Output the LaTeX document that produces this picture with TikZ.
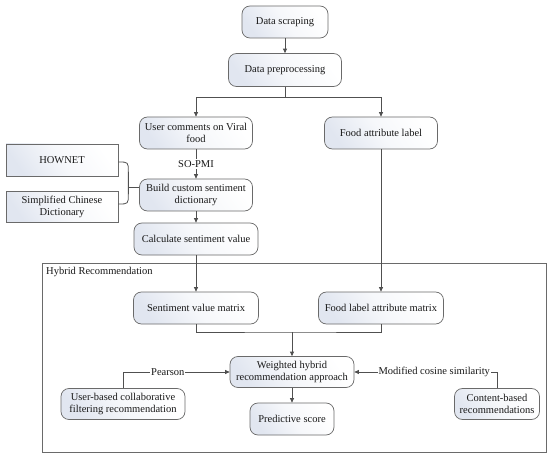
\documentclass[tikz,border=0pt]{standalone}
\usepackage{fontspec}
\setmainfont{Liberation Serif}
\usetikzlibrary{arrows.meta}
\definecolor{boxblue}{HTML}{E1E6F0}
\definecolor{edgegray}{HTML}{6A6A6A}
\definecolor{linegray}{HTML}{505050}
\begin{document}
\begin{tikzpicture}[x=1pt,y=-1pt,
  every node/.style={font=\fontsize{10.5}{12}\selectfont, text=black!90, inner sep=1pt},
  rbox/.style={draw=edgegray, line width=0.7pt, rounded corners=8pt, align=center,
     left color=boxblue, right color=white, middle color=white!70!boxblue, shading angle=125,
     minimum height=32pt},
  sbox/.style={draw=edgegray, line width=0.7pt, align=center,
     left color=boxblue, right color=white, middle color=white!70!boxblue, shading angle=125,
     minimum width=112pt},
  conn/.style={draw=linegray, line width=0.8pt},
  arr/.style={conn, -{Triangle[length=4.5pt,width=4pt]}},
  lbl/.style={fill=white, inner sep=1pt}
]
\useasboundingbox (0,0) rectangle (550,460);
\fill[white] (0,0) rectangle (550,460);

% hybrid frame
\draw[draw=edgegray, line width=0.8pt] (42,263) rectangle (546,452);
\node[anchor=west] (hyb) at (45,272) {Hybrid Recommendation};

% nodes
\node[rbox, minimum width=86pt] (scrap) at (285,22) {Data scraping};
\node[rbox, minimum width=113pt, minimum height=33pt] (prep) at (285,70) {Data preprocessing};
\node[rbox, minimum width=113pt] (user) at (196,133) {User comments on Viral\\food};
\node[rbox, minimum width=113pt] (food) at (381,133) {Food attribute label};
\node[sbox, minimum height=32pt] (how) at (62,160) {HOWNET};
\node[sbox, minimum height=31pt] (sim) at (62,207) {Simplified Chinese\\Dictionary};
\node[rbox, minimum width=113pt] (build) at (196,195) {Build custom sentiment\\dictionary};
\node[rbox, minimum width=124pt] (calc) at (196,239) {Calculate sentiment value};
\node[rbox, minimum width=125pt] (svm) at (196,308) {Sentiment value matrix};
\node[rbox, minimum width=125pt] (flam) at (381,308) {Food label attribute matrix};
\node[rbox, minimum width=124pt, minimum height=31pt] (whr) at (292,372) {Weighted hybrid\\recommendation approach};
\node[rbox, minimum width=84pt] (pred) at (292,419) {Predictive score};
\node[rbox, minimum width=124pt, minimum height=31pt] (ubcf) at (123,404) {User-based collaborative\\filtering recommendation};
\node[rbox, minimum width=85pt, minimum height=31pt] (cbr) at (497,404) {Content-based\\recommendations};

% connectors
\coordinate (br) at (285,97);
\coordinate (mg) at (292,332);
\coordinate (bt) at (128,187);

\draw[arr] (scrap) -- (prep);
\draw[conn] (prep) -- (br);
\draw[arr] (br) -| (user);
\draw[arr] (br) -| (food);
\draw[arr] (user) -- node[lbl] {SO-PMI} (build);
\draw[arr] (build) -- (calc);
\draw[arr] (calc) -- (svm);
\draw[arr] (food) -- (flam);
\draw[conn] (svm) |- (mg) -| (flam);
\draw[arr] (mg) -- (whr);
\draw[arr] (ubcf) |- node[lbl, pos=0.71] {Pearson} (whr);
\draw[arr] (cbr) |- node[lbl, pos=0.72] {Modified cosine similarity} (whr);
\draw[arr] (whr) -- (pred);

% brace from dictionaries to build
\draw[conn] ([yshift=-2pt]how.east) .. controls ([xshift=10pt,yshift=-2pt]how.east) .. ([xshift=10pt,yshift=-12pt]how.east)
  -- ([xshift=10pt,yshift=13pt]sim.east) .. controls ([xshift=10pt,yshift=3pt]sim.east) .. ([yshift=3pt]sim.east);
\draw[conn] (bt) -- (bt -| build.west);
\end{tikzpicture}
\end{document}
